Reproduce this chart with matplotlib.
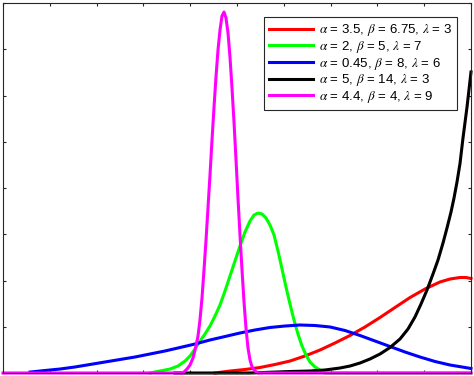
import matplotlib
matplotlib.use('Agg')
import matplotlib.pyplot as plt

plt.rcParams['font.family'] = ['Liberation Sans', 'DejaVu Sans']
plt.rcParams['mathtext.fontset'] = 'stix'

# --- data (x in 0..1, y in 0..8) ---
red_x = [0.4530, 0.4850, 0.5171, 0.5491, 0.5812, 0.6132, 0.6453, 0.6774, 0.7094, 0.7415,
         0.7735, 0.8056, 0.8376, 0.8697, 0.9017, 0.9338, 0.9551, 0.9765, 0.9893, 1.0]
red_y = [0.0, 0.043, 0.076, 0.119, 0.184, 0.259, 0.368, 0.497, 0.649, 0.811,
         0.995, 1.200, 1.416, 1.632, 1.816, 1.968, 2.032, 2.065, 2.065, 2.043]

green_x = [0.3141, 0.3355, 0.3568, 0.3739, 0.3889, 0.3996, 0.4103, 0.4209, 0.4316, 0.4423,
           0.4530, 0.4637, 0.4744, 0.4850, 0.4957, 0.5064, 0.5171, 0.5278, 0.5363, 0.5449,
           0.5534, 0.5620, 0.5705, 0.5791, 0.5876, 0.5962, 0.6047, 0.6132, 0.6218, 0.6303,
           0.6389, 0.6474, 0.6560, 0.6667, 0.6774, 0.6880, 1.0]
green_y = [0.0, 0.043, 0.086, 0.151, 0.259, 0.368, 0.519, 0.692, 0.843, 1.016,
           1.232, 1.470, 1.773, 2.097, 2.422, 2.746, 3.049, 3.286, 3.416, 3.459,
           3.438, 3.351, 3.200, 2.984, 2.638, 2.249, 1.859, 1.492, 1.146, 0.843,
           0.584, 0.389, 0.238, 0.130, 0.065, 0.0, 0.0]

blue_x = [0.0577, 0.0897, 0.1218, 0.1538, 0.1859, 0.2179, 0.2500, 0.2821, 0.3141, 0.3462,
          0.3782, 0.4103, 0.4423, 0.4744, 0.5064, 0.5385, 0.5705, 0.6026, 0.6346, 0.6667,
          0.6987, 0.7308, 0.7628, 0.7949, 0.8269, 0.8590, 0.8910, 0.9231, 0.9551, 0.9872, 1.0]
blue_y = [0.02, 0.054, 0.086, 0.130, 0.184, 0.238, 0.292, 0.346, 0.411, 0.476,
          0.551, 0.627, 0.714, 0.789, 0.865, 0.930, 0.984, 1.016, 1.038, 1.027,
          0.995, 0.919, 0.811, 0.692, 0.573, 0.454, 0.346, 0.249, 0.173, 0.119, 0.097]

black_x = [0.3675, 0.5278, 0.6132, 0.6560, 0.6880, 0.7201, 0.7415, 0.7628, 0.7842, 0.8056,
           0.8269, 0.8483, 0.8654, 0.8803, 0.8932, 0.9060, 0.9188, 0.9295, 0.9402, 0.9487,
           0.9573, 0.9637, 0.9701, 0.9765, 0.9829, 0.9915, 1.0]
black_y = [0.0, 0.0, 0.032, 0.043, 0.065, 0.108, 0.151, 0.216, 0.303, 0.411,
           0.551, 0.735, 0.951, 1.211, 1.492, 1.795, 2.141, 2.443, 2.811, 3.135,
           3.481, 3.784, 4.130, 4.530, 5.081, 5.751, 6.508]

magenta_x = [0.0, 0.3846, 0.3932, 0.3996, 0.4060, 0.4124, 0.4167, 0.4209, 0.4252, 0.4295,
             0.4338, 0.4380, 0.4423, 0.4466, 0.4509, 0.4551, 0.4594, 0.4637, 0.4679, 0.4722,
             0.4765, 0.4808, 0.4850, 0.4893, 0.4936, 0.4979, 0.5021, 0.5064, 0.5107, 0.5150,
             0.5192, 0.5235, 0.5278, 0.5321, 0.5385, 0.5449, 1.0]
magenta_y = [0.0, 0.0, 0.086, 0.173, 0.324, 0.584, 0.800, 1.146, 1.622, 2.227,
             2.876, 3.568, 4.281, 5.038, 5.751, 6.400, 6.984, 7.416, 7.719, 7.805,
             7.676, 7.351, 6.832, 6.162, 5.427, 4.605, 3.784, 2.984, 2.227, 1.535,
             0.973, 0.541, 0.281, 0.130, 0.043, 0.0, 0.0]

labels = [r'$\alpha$ = 3.5, $\beta$ = 6.75, $\lambda$ = 3',
          r'$\alpha$ = 2, $\beta$ = 5, $\lambda$ = 7',
          r'$\alpha$ = 0.45, $\beta$ = 8, $\lambda$ = 6',
          r'$\alpha$ = 5, $\beta$ = 14, $\lambda$ = 3',
          r'$\alpha$ = 4.4, $\beta$ = 4, $\lambda$ = 9']

fig = plt.figure(figsize=(4.74, 3.76), dpi=100)
ax = fig.add_axes([3 / 474, 3 / 376, 468 / 474, 370 / 376])

series = [(red_x, red_y, '#ff0000'), (green_x, green_y, '#00ff00'),
          (blue_x, blue_y, '#0000ff'), (black_x, black_y, '#000000'),
          (magenta_x, magenta_y, '#ff00ff')]
for (xs, ys, c), lab in zip(series, labels):
    ax.plot(xs, ys, color=c, lw=2.2, label=lab, clip_on=False)

ax.set_xlim(0, 1)
ax.set_ylim(0, 8)
ax.set_xticks([i / 10 for i in range(11)])
ax.set_yticks(range(9))
ax.tick_params(direction='in', top=True, right=True, length=2.5, width=0.8,
               color='#262626', labelbottom=False, labelleft=False)
for s in ax.spines.values():
    s.set_color('#262626')
    s.set_linewidth(0.8)

leg = ax.legend(loc='upper right', bbox_to_anchor=(0.970, 0.962), borderaxespad=0,
                fancybox=False, framealpha=1, edgecolor='#262626', fontsize=9.5,
                handlelength=3.3, handletextpad=0.45, labelspacing=0.05, borderpad=0.4)
leg.get_frame().set_linewidth(0.8)

fig.savefig('out.png', dpi=100)
